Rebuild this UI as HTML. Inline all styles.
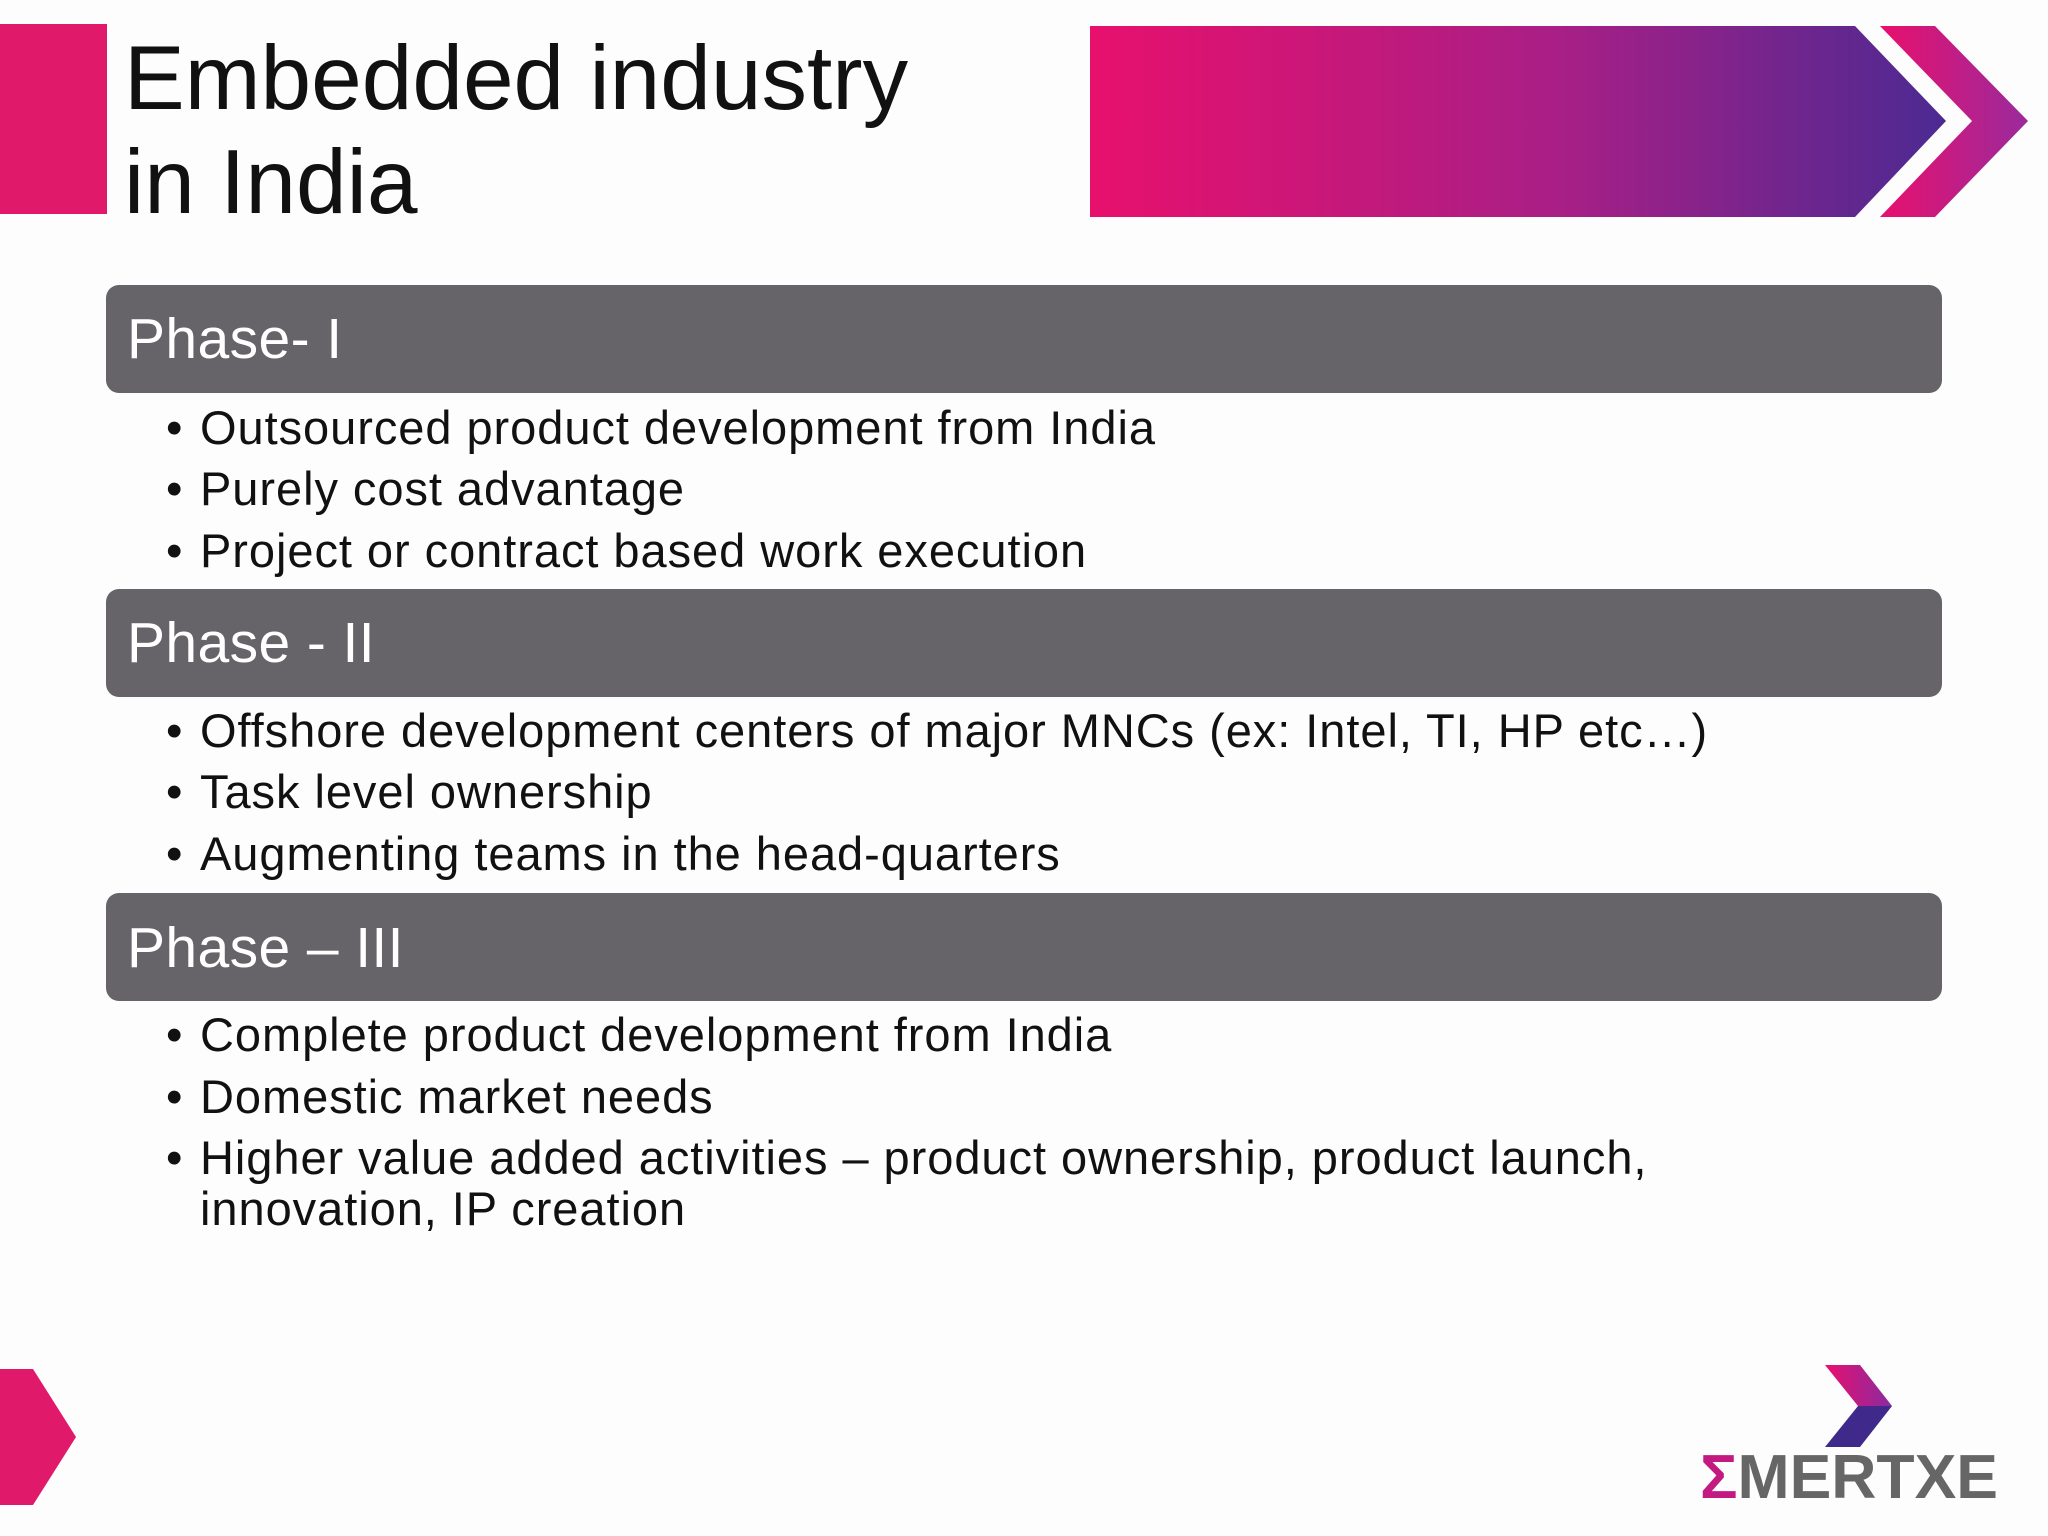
<!DOCTYPE html>
<html><head><meta charset="utf-8"><style>
body{margin:0;width:2048px;height:1536px;background:#fdfdfd;position:relative;overflow:hidden;font-family:"Liberation Sans","DejaVu Sans",sans-serif}
.a{position:absolute;line-height:1;white-space:nowrap}
.bar{position:absolute;left:106px;width:1836px;height:108px;background:#666468;border-radius:13px}
.ph{color:#fff;font-size:57px;left:127px;letter-spacing:0.4px}
.b{font-size:47px;color:#111;left:166px}
.b span{position:absolute;left:34px;letter-spacing:0.95px}
</style></head><body>
<div style="position:absolute;left:0;top:24px;width:107px;height:190px;background:#e0196a"></div>
<div class="a" style="left:124px;top:33px;font-size:91px;color:#111">Embedded industry</div>
<div class="a" style="left:124px;top:137px;font-size:91px;color:#111">in India</div>
<svg style="position:absolute;left:0;top:0" width="2048" height="240">
<defs><linearGradient id="g" x1="0" x2="1"><stop offset="0" stop-color="#e8106d"/><stop offset="0.55" stop-color="#a81f86"/><stop offset="1" stop-color="#4b2a92"/></linearGradient>
<linearGradient id="g2" x1="0" x2="1"><stop offset="0" stop-color="#e8106d"/><stop offset="1" stop-color="#9b2a9c"/></linearGradient></defs>
<polygon points="1090,26 1855,26 1946,121 1855,217 1090,217" fill="url(#g)"/>
<polygon points="1880,26 1935,26 2028,121 1935,217 1880,217 1972,121" fill="url(#g2)"/>
</svg>
<div class="bar" style="top:285px"></div>
<div class="bar" style="top:589px"></div>
<div class="bar" style="top:893px"></div>
<div class="a ph" style="top:311px">Phase- I</div>
<div class="a ph" style="top:615px">Phase - II</div>
<div class="a ph" style="top:920px">Phase – III</div>
<div class="a b" style="top:404px">•<span>Outsourced product development from India</span></div>
<div class="a b" style="top:465px">•<span>Purely cost advantage</span></div>
<div class="a b" style="top:527px">•<span>Project or contract based work execution</span></div>
<div class="a b" style="top:707px">•<span>Offshore development centers of major MNCs (ex: Intel, TI, HP etc…)</span></div>
<div class="a b" style="top:768px">•<span>Task level ownership</span></div>
<div class="a b" style="top:830px">•<span>Augmenting teams in the head-quarters</span></div>
<div class="a b" style="top:1011px">•<span>Complete product development from India</span></div>
<div class="a b" style="top:1073px">•<span>Domestic market needs</span></div>
<div class="a b" style="top:1134px">•<span>Higher value added activities – product ownership, product launch,</span></div>
<div class="a b" style="top:1185px"><span>innovation, IP creation</span></div>
<svg style="position:absolute;left:0;top:1369px" width="80" height="140">
<polygon points="0,0 33,0 76,68 33,136 0,136" fill="#e0196a"/></svg>
<svg style="position:absolute;left:1690px;top:1355px" width="340" height="160">
<defs><linearGradient id="g3" x1="0" x2="1"><stop offset="0" stop-color="#e8106d"/><stop offset="1" stop-color="#8a2aa0"/></linearGradient></defs>
<polygon points="135,10 170,10 202,51 168,51" fill="url(#g3)"/>
<polygon points="168,51 202,51 170,92 135,92" fill="#3f2a8c"/>
<text x="10" y="143" font-family="Liberation Sans, sans-serif" font-weight="bold" font-size="62" fill="#666" textLength="298" lengthAdjust="spacingAndGlyphs"><tspan fill="#c21a80">Σ</tspan>MERTXE</text>
</svg>
</body></html>
